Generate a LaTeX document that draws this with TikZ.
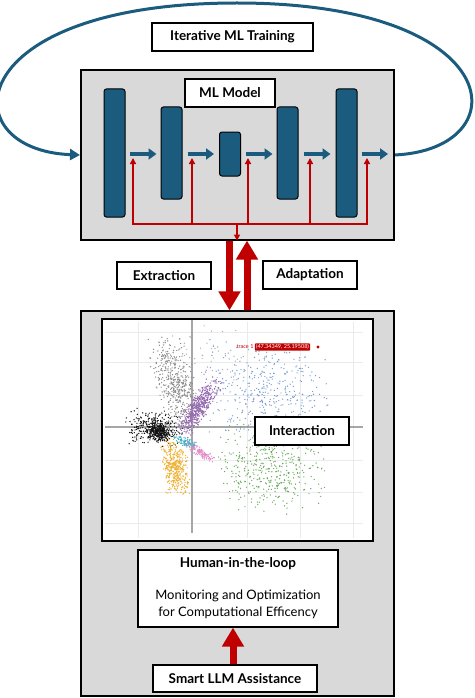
\documentclass[tikz,border=0pt]{standalone}
\usepackage{fontspec}
\setmainfont{Lato}
\usetikzlibrary{arrows.meta}
\definecolor{mlblue}{HTML}{1B5B7E}
\definecolor{mlred}{HTML}{C00000}
\definecolor{boxgray}{HTML}{D9D9D9}
\definecolor{cgray}{HTML}{8C8C8C}
\definecolor{cblack}{HTML}{111111}
\definecolor{cpurple}{HTML}{9468B0}
\definecolor{cblue}{HTML}{5584C4}
\definecolor{cgreen}{HTML}{4E9A3F}
\definecolor{cyellow}{HTML}{F0B030}
\definecolor{ccyan}{HTML}{3BB3C9}
\definecolor{cpink}{HTML}{E58AC8}
\newcommand\dotcloud[8]{%
  \foreach \k in {1,...,#2}{%
    \pgfmathsetmacro\cT{(rand+rand)/2}%
    \pgfmathsetmacro\cS{(rand+rand)/2}%
    \fill[#1] ({#3+\cT*#5+\cS*#7},{#4+\cT*#6+\cS*#8}) circle (0.7);
  }}
\tikzset{
  graybox/.style={draw=black, line width=1.2pt, fill=boxgray, inner sep=0pt},
  textbox/.style={draw=black, line width=1.2pt, fill=white, inner sep=0pt, font=\bfseries\fontsize{13.5}{15}\selectfont},
  layer/.style={draw=black, line width=1pt, fill=mlblue, rounded corners=2.5pt, minimum width=21pt, inner sep=0pt},
  bluearrow/.style={draw=mlblue, line width=3.5pt, -{Triangle[length=8pt,width=11pt]}},
  thinred/.style={draw=mlred, line width=1.5pt, -{Triangle[length=6pt,width=6pt]}},
  thickred/.style={draw=mlred, line width=7pt, -{Triangle[length=19pt,width=21pt]}},
  loop/.style={draw=mlblue, line width=3pt, -{Triangle[length=10pt,width=11pt]}},
}
\begin{document}
\begin{tikzpicture}[x=1pt,y=-1pt]
\useasboundingbox (0,0) rectangle (474,698);
% loop
\coordinate (loopstart) at (394,155);
\coordinate (looptop) at (237,3);
\coordinate (loopend) at (80,155);
\draw[loop] (loopstart) .. controls (520,150) and (510,3) .. (looptop)
  .. controls (-40,3) and (-50,150) .. (loopend);
\node[textbox, minimum width=161pt, minimum height=28pt] (iter) at (232.5,37) {Iterative ML Training};
% ML model box
\node[graybox, minimum width=313pt, minimum height=170pt] (mlbox) at (237.5,155) {};
\node[textbox, minimum width=90pt, minimum height=28pt] (mlmodel) at (230,93) {ML Model};
\node[layer, minimum height=128pt] (L1) at (114.5,153) {};
\node[layer, minimum height=92pt] (L2) at (171.5,153) {};
\node[layer, minimum height=44pt] (L3) at (230,154) {};
\node[layer, minimum height=92pt] (L4) at (287.5,153) {};
\node[layer, minimum height=128pt] (L5) at (346.5,153) {};
\coordinate (outR) at (388,154);
\draw[bluearrow, shorten <=4pt, shorten >=4pt] (L1.east |- 0,154) -- (L2.west |- 0,154);
\draw[bluearrow, shorten <=5pt, shorten >=5pt] (L2.east |- 0,154) -- (L3.west |- 0,154);
\draw[bluearrow, shorten <=5pt, shorten >=4pt] (L3.east |- 0,154) -- (L4.west |- 0,154);
\draw[bluearrow, shorten <=5pt, shorten >=5pt] (L4.east |- 0,154) -- (L5.west |- 0,154);
\draw[bluearrow, shorten <=4pt] (L5.east |- 0,154) -- (outR);
% red feedback lines
\coordinate (r1) at (133,224);
\coordinate (r5) at (367,224);
\coordinate (rmid) at (237,224);
\draw[mlred, line width=1.5pt] (r1) -- (r5);
\foreach \xx in {133,192,248,310,367}{
  \draw[thinred] (\xx,224.75) -- (\xx,158);
}
\draw[thinred] (rmid) -- (mlbox.south -| rmid);
% bottom box
\node[graybox, minimum width=313pt, minimum height=385pt] (bottombox) at (237.5,503.5) {};
% big arrows
\draw[thickred] (mlbox.south -| 229.5,0) -- (bottombox.north -| 229.5,0);
\draw[thickred] (bottombox.north -| 247,0) -- (mlbox.south -| 247,0);
\node[textbox, minimum width=94pt, minimum height=27pt] (extr) at (164,275.5) {Extraction};
\node[textbox, minimum width=94pt, minimum height=28pt] (adapt) at (310,275) {Adaptation};
% plot
\node[draw=black, line width=1.2pt, fill=white, minimum width=271pt, minimum height=222pt, inner sep=0pt] (plot) at (237.5,430) {};
\begin{scope}
\clip (103,320) rectangle (372,540);
\foreach \gx in {138,247,300,353}{\draw[black!8, line width=0.6pt] (\gx,322) -- (\gx,538);}
\foreach \gy in {332,362,395,460,492,523}{\draw[black!8, line width=0.6pt] (105,\gy) -- (363,\gy);}
\draw[black!35, line width=1.3pt] (192,320) -- (192,533);
\draw[black!35, line width=1.3pt] (105,427) -- (363,427);
\pgfmathsetseed{7}
\dotcloud{cblue!80}{420}{262}{393}{72}{14}{-14}{55}
\dotcloud{cgreen!85}{460}{272}{465}{55}{-12}{14}{52}
\dotcloud{cgray}{480}{176}{384}{-14}{-50}{22}{-2}
\dotcloud{cgray!70}{60}{200}{360}{50}{-10}{5}{40}
\dotcloud{cblack}{320}{155}{428}{30}{4}{0}{20}
\dotcloud{cblack}{260}{159}{432}{13}{0}{0}{10}
\dotcloud{cyellow}{420}{175}{467}{4}{30}{14}{0}
\dotcloud{cpurple}{500}{198}{408}{20}{-30}{9}{6}
\dotcloud{ccyan}{100}{185}{442}{12}{4}{0}{5}
\dotcloud{cpink}{120}{200}{452}{15}{10}{-3}{4}
\end{scope}
\node[fill=mlred, text=white, font=\fontsize{5.5}{6}\selectfont, inner sep=1.2pt, rounded corners=1pt] (trace) at (282.5,347) {(47.34349, 25.19508)};
\node[text=mlred, font=\fontsize{5.5}{6}\selectfont, left, inner sep=1pt] (tracelbl) at (trace.west) {trace 1};
\fill[mlred] (318,347) circle (1.6);
\node[textbox, minimum width=94pt, minimum height=28pt] (inter) at (302,431) {Interaction};
% human in the loop
\node[textbox, font=\bfseries\fontsize{13.5}{17}\selectfont, minimum width=200pt, minimum height=77pt, align=center] (human) at (238,588.5)
  {Human-in-the-loop\\[15pt]\mdseries\fontsize{13}{17}\selectfont Monitoring and Optimization\\ \mdseries\fontsize{13}{17}\selectfont for Computational Efficency};
\node[textbox, minimum width=164pt, minimum height=27pt] (smart) at (235,678.5) {Smart LLM Assistance};
\draw[thickred] (smart.north -| 233,0) -- (human.south -| 233,0);
\end{tikzpicture}
\end{document}
